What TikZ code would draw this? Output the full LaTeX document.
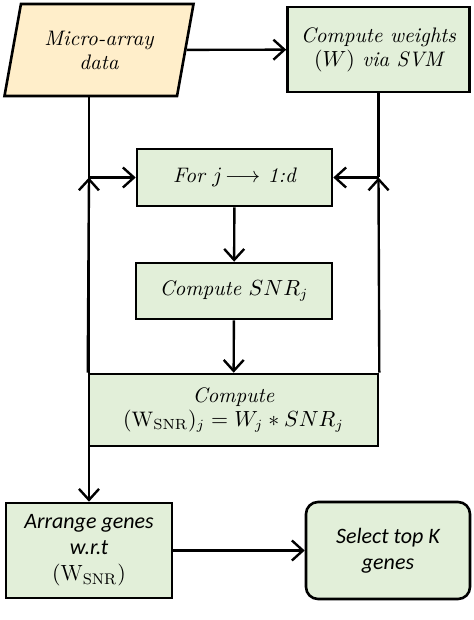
\documentclass[tikz,border=0pt]{standalone}
\usepackage{fontspec}
\newfontfamily\sansit{Carlito}[ItalicFont={Carlito Italic}]
\usepackage{tikz}
\usetikzlibrary{arrows.meta,positioning,shapes.geometric}
\definecolor{boxgreen}{RGB}{226,239,217}
\definecolor{boxorange}{RGB}{255,238,202}

\begin{document}
\begin{tikzpicture}[x=0.5pt,y=-0.5pt,
          step box/.style={draw,rectangle,fill=boxgreen,line width=1.3pt,align=center,font=\fontsize{10.5}{12}\selectfont\itshape,inner sep=2pt},
          data box/.style={draw,trapezium,trapezium left angle=76,trapezium right angle=104,trapezium stretches=true,fill=boxorange,line width=1.3pt,align=center,font=\fontsize{10.5}{12}\selectfont\itshape},
          end box/.style={step box,rounded corners=6pt,font=\fontsize{11}{13}\selectfont\sansit\itshape},
          every path/.style={line width=1.2pt,>={Straight Barb[length=5.5pt,width=10pt]}}
        ]
        \useasboundingbox (0,0) rectangle (474,620);

        \node[data box,minimum width=95pt,minimum height=46pt] (data) at (99,50) {Micro-array\\data};
        \node[step box,minimum width=91pt,minimum height=42.5pt] (svm) at (378.5,49.5) {Compute weights\\$(W)$ via SVM};
        \node[step box,minimum width=97.5pt,minimum height=28.5pt] (loop) at (234.5,177.5) {For $j\!\longrightarrow$ 1:d};
        \node[step box,minimum width=98pt,minimum height=28pt] (snr) at (234,291) {Compute $SNR_j$};
        \node[step box,minimum width=144.5pt,minimum height=36pt] (wsnr) at (233.5,410) {Compute\\$(\mathrm{W}_{\mathrm{SNR}})_j = W_j * SNR_j$};
        \node[step box,font=\fontsize{11}{13}\selectfont\sansit\itshape,minimum width=83pt,minimum height=47.5pt] (rank) at (89,550.5) {Arrange genes\\w.r.t\\{\rmfamily\upshape$(\mathrm{W}_{\mathrm{SNR}})$}};
        \node[end box,minimum width=82pt,minimum height=48.5pt] (top) at (388,550.5) {Select top K\\genes};

        %junctions
        \coordinate (jl) at (rank.north |- loop.west);
        \coordinate (jr) at (svm.south |- loop.east);

        \draw[->] (data) -- (svm);
        \draw[->] (data.south -| rank.north) -- (rank.north);
        \draw (svm.south) -- (jr);
        \path
        (jl) edge[->] (loop.west)
        (wsnr.north west) edge[->] (jl)
        (wsnr.north east) edge[->] (jr)
        (jr) edge[->] (loop.east)
        (loop) edge[->] (snr)
        (snr) edge[->] (wsnr)
        (rank) edge[->] (top)
        ;
    \end{tikzpicture}
\end{document}
